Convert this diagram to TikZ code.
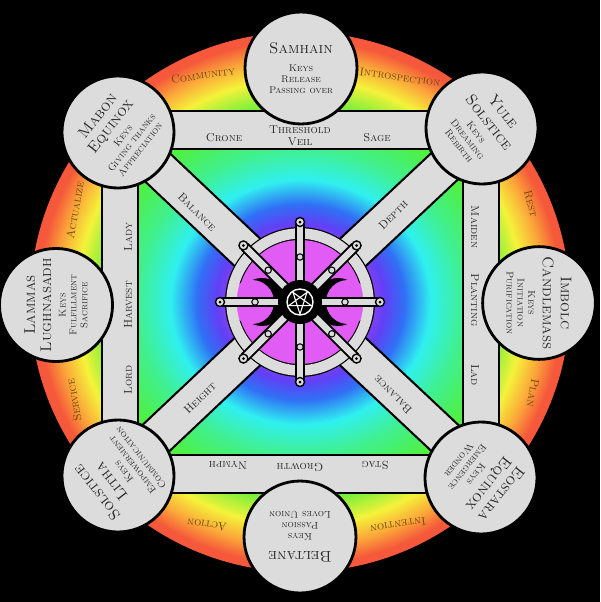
\documentclass[tikz,border=0pt]{standalone}
\usepackage{tikz}
\usetikzlibrary{calc}
\definecolor{cgray}{HTML}{DCDCDC}
\definecolor{txt}{HTML}{2A2A2A}
\definecolor{ringtxt}{HTML}{6A4A08}
\definecolor{mag}{HTML}{E05CF5}
\definecolor{rg1}{HTML}{9AF03A}
\definecolor{rg2}{HTML}{F5F23A}
\definecolor{rg3}{HTML}{FBA83A}
\definecolor{rg4}{HTML}{F5583A}
\definecolor{is0}{HTML}{B040F0}
\definecolor{is1}{HTML}{6040F5}
\definecolor{is2}{HTML}{3070F5}
\definecolor{is3}{HTML}{30F0F0}
\definecolor{is4}{HTML}{40F090}
\definecolor{is5}{HTML}{50F040}
\pgfdeclareradialshading{outerring}{\pgfpoint{0bp}{0bp}}{%
color(0bp)=(is5); color(17.5bp)=(is5); color(19bp)=(rg1);
color(20.7bp)=(rg2); color(22.6bp)=(rg3); color(24.3bp)=(rg4);
color(25bp)=(rg4); color(50bp)=(rg4)}
\pgfdeclareradialshading{innersq}{\pgfpoint{0bp}{0bp}}{%
color(0bp)=(is0); color(9bp)=(is0); color(13bp)=(is1); color(16bp)=(is2);
color(20bp)=(is3); color(25bp)=(is4); color(31bp)=(is5); color(50bp)=(is5)}
\tikzset{
  circ/.style={circle, draw=black, line width=1.6pt, fill=cgray, minimum size=2.24cm, inner sep=0pt,
    align=center, text=txt, font=\scshape\fontsize{5.6}{6.2}\selectfont},
  barlbl/.style={text=txt, font=\scshape\fontsize{6.5}{7}\selectfont, inner sep=0pt},
  ringlbl/.style={text=ringtxt, font=\scshape\fontsize{6.5}{7}\selectfont, inner sep=0pt},
}
\newcommand{\ttl}[1]{{\fontsize{8.8}{9}\selectfont #1}}
\begin{document}
\begin{tikzpicture}[x=0.02cm,y=-0.02cm]
\fill[black] (0,0) rectangle (600,602);
\useasboundingbox (0,0) rectangle (600,602);
\coordinate (C) at (300,302);
% rainbow disc
\shade[shading=outerring] (C) circle (270);
% frame
\draw[fill=cgray, line width=1.4pt] (102,111) rectangle (499,493);
\shade[shading=innersq] (138,149) rectangle (463,455);
\begin{scope}
\clip (138,149) rectangle (463,455);
\foreach \p in {(138,149),(463,149),(138,455),(463,455)}{
  \draw[black, line width=22.5pt] \p -- (C);
  \draw[cgray, line width=20pt] \p -- (C);
}
\end{scope}
\draw[line width=1.4pt] (138,149) rectangle (463,455);
% emblem
\fill[black] (C) circle (75);
\fill[mag] (C) circle (62);
\fill[black] (262,302) circle (24);
\fill[mag] (252,302) circle (22);
\fill[black] (338,302) circle (24);
\fill[mag] (348,302) circle (22);
\draw[cgray, line width=6pt] (C) circle (68.5);
\foreach \a in {0,45,...,315}{
  \draw[black, line width=6pt] (C) ++(\a:16) -- ++(\a:62);
  \draw[cgray, line width=3.8pt] (C) ++(\a:17) -- ++(\a:61);
  \draw[black, fill=cgray, line width=0.8pt] (C) ++(\a:80) circle (4.5);
  \fill[black] (C) ++(\a:80) circle (1.5);
  \draw[black, fill=cgray, line width=0.6pt] (C) ++(\a:45) circle (3.2);
}
\fill[black] (C) circle (22);
\draw[white, line width=0.8pt] (C) circle (13);
\draw[white, line width=0.6pt] ($(C)+(90:12)$) -- ($(C)+(234:12)$) -- ($(C)+(18:12)$) -- ($(C)+(162:12)$) -- ($(C)+(306:12)$) -- cycle;
% circles
\node[circ] (samhain) at (301,68) {\ttl{Samhain}\\[4pt] Keys\\ Release\\ Passing over};
\node[circ, rotate=-52] (yule) at (482,128) {\ttl{Yule}\\[3pt] \ttl{Solstice}\\[2pt] Keys\\ Dreaming\\ Rebirth};
\node[circ, rotate=-90] (imbolc) at (539,303) {\ttl{Imbolc}\\[3pt] \ttl{Candlemass}\\[2pt] Keys\\ Initiation\\ Purification};
\node[circ, rotate=-128] (eostara) at (481,478) {\ttl{Eostara}\\[3pt] \ttl{Equinox}\\[2pt] Keys\\ Emergence\\ Wonder};
\node[circ, rotate=180] (beltane) at (300,537) {\ttl{Beltane}\\[4pt] Keys\\ Passion\\ Loves Union};
\node[circ, rotate=128] (litha) at (118,476) {\ttl{Solstice}\\[3pt] \ttl{Litha}\\[2pt] Keys\\ Empowerment\\ Communication};
\node[circ, rotate=90] (lammas) at (56,305) {\ttl{Lammas}\\[3pt] \ttl{Lughnasadh}\\[2pt] Keys\\ Fulfillment\\ Sacrifice};
\node[circ, rotate=52] (mabon) at (118,132) {\ttl{Mabon}\\[3pt] \ttl{Equinox}\\[2pt] Keys\\ Giving thanks\\ Appreciation};
% bar labels
\node[barlbl] (crone) at (224,138) {Crone};
\node[barlbl, align=center] (thresh) at (300,136) {Threshold\\ Veil};
\node[barlbl] (sage) at (377,138) {Sage};
\node[barlbl, rotate=-90] (maiden) at (475,227) {Maiden};
\node[barlbl, rotate=-90] (planting) at (475,300) {Planting};
\node[barlbl, rotate=-90] (lad) at (475,375) {Lad};
\node[barlbl, rotate=180] (nymph) at (228,465) {Nymph};
\node[barlbl, rotate=180] (growth) at (300,467) {Growth};
\node[barlbl, rotate=180] (stag) at (375,465) {Stag};
\node[barlbl, rotate=90] (lady) at (128,237) {Lady};
\node[barlbl, rotate=90] (harvest) at (128,305) {Harvest};
\node[barlbl, rotate=90] (lord) at (128,380) {Lord};
\node[barlbl, rotate=-45] (bal1) at (197,212) {Balance};
\node[barlbl, rotate=45] (depth) at (393,215) {Depth};
\node[barlbl, rotate=45] (height) at (200,398) {Height};
\node[barlbl, rotate=135] (bal2) at (393,395) {Balance};
% ring labels
\node[ringlbl, rotate=8] (community) at (203,75) {Community};
\node[ringlbl, rotate=-8] (intro) at (400,77) {Introspection};
\node[ringlbl, rotate=-75] (rest) at (531,204) {Rest};
\node[ringlbl, rotate=-100] (plan) at (533,393) {Plan};
\node[ringlbl, rotate=188] (intention) at (398,525) {Intention};
\node[ringlbl, rotate=172] (action) at (207,525) {Action};
\node[ringlbl, rotate=100] (service) at (74,400) {Service};
\node[ringlbl, rotate=80] (actualize) at (75,210) {Actualize};
\end{tikzpicture}
\end{document}
